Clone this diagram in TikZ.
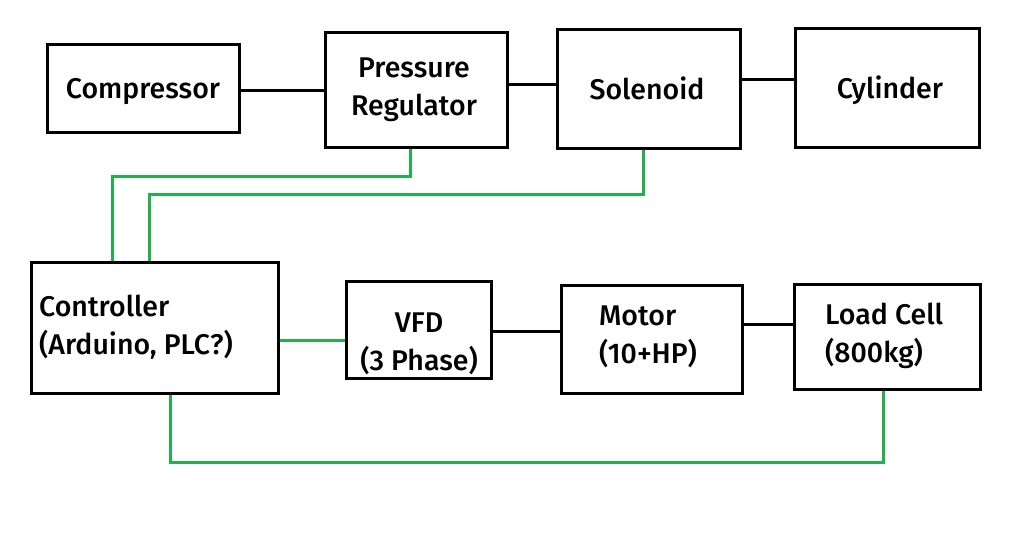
\documentclass[tikz,border=0pt]{standalone}
\usepackage{fontspec}
\setmainfont{Fira Sans}[UprightFont=* Medium]
\begin{document}
\begin{tikzpicture}[x=1pt,y=-1pt]
\useasboundingbox (0,0) rectangle (1024,547);
\definecolor{gl}{RGB}{34,177,76}
\tikzset{
  box/.style={draw=black,line width=3pt,minimum width=#1,inner sep=0pt},
  blk/.style={draw=black,line width=3pt},
  grn/.style={draw=gl,line width=3pt},
  txt/.style={inner sep=0pt,align=left,font=\fontsize{28.5}{38}\selectfont}}
\node[box=192pt,minimum height=88pt] (comp) at (143,88) {};
\node[txt] (compt) at (143,92) {Compressor};
\node[box=182pt,minimum height=115pt] (pr) at (416,89.5) {};
\node[txt,align=center] (prt) at (414,90) {Pressure\\Regulator};
\node[box=183pt,minimum height=119pt] (sol) at (648.5,88.5) {};
\node[txt] (solt) at (647,88) {Solenoid};
\node[box=184pt,minimum height=119pt] (cyl) at (887,87.5) {};
\node[txt] (cylt) at (890,90) {Cylinder};
\node[box=247pt,minimum height=131pt] (ctl) at (154.5,327.5) {};
\node[txt,anchor=west] (ctlt) at (39,327) {Controller\\(Arduino, PLC?)};
\node[box=145pt,minimum height=97pt] (vfd) at (418.5,329.5) {};
\node[txt,align=center] (vfdt) at (419,344) {VFD\\(3 Phase)};
\node[box=181pt,minimum height=108pt] (mot) at (651.5,339) {};
\node[txt,anchor=west] (mott) at (599,337) {Motor\\(10+HP)};
\node[box=186pt,minimum height=105pt] (lc) at (887,336.5) {};
\node[txt,anchor=west] (lct) at (825,336) {Load Cell\\(800kg)};
\draw[blk] (comp.east|-0,90) -- (pr.west|-0,90);
\draw[blk] (pr.east|-0,84) -- (sol.west|-0,84);
\draw[blk] (sol.east|-0,79) -- (cyl.west|-0,79);
\draw[blk] (vfd.east|-0,331) -- (mot.west|-0,331);
\draw[blk] (mot.east|-0,324) -- (lc.west|-0,324);
\draw[grn] (pr.south-|410,0) -- (410,176) -- (112,176) -- (ctl.north-|112,0);
\draw[grn] (sol.south-|643,0) -- (643,194) -- (149,194) -- (ctl.north-|149,0);
\draw[grn] (ctl.east|-0,340) -- (vfd.west|-0,340);
\draw[grn] (ctl.south-|170,0) -- (170,462) -- (883,462) -- (lc.south-|883,0);
\end{tikzpicture}
\end{document}
